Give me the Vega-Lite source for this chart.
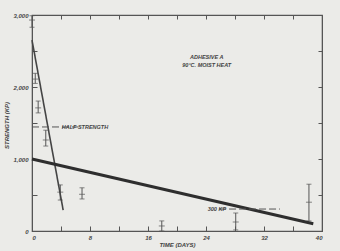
{
  "$schema": "https://vega.github.io/schema/vega-lite/v6.json",
  "width": 290,
  "height": 216,
  "autosize": "none",
  "padding": {"left": 32, "top": 15, "right": 18, "bottom": 20},
  "background": "#ebebe8",
  "config": {
    "view": {"stroke": "#555555", "strokeWidth": 1.2},
    "font": "Liberation Sans",
    "axis": {"labelFont": "Liberation Sans", "titleFont": "Liberation Sans", "labelFontStyle": "italic", "titleFontStyle": "italic", "labelFontWeight": "bold", "titleFontWeight": "bold", "labelColor": "#444", "titleColor": "#444", "domainColor": "#555", "tickColor": "#555", "grid": false, "labelFontSize": 6, "titleFontSize": 6}
  },
  "resolve": {"axis": {"x": "independent", "y": "independent"}},
  "datasets": {
    "pts": [
      {"day": 0, "s": 2930, "lo": 2830, "hi": 2990},
      {"day": 0.45, "s": 2110, "lo": 2050, "hi": 2190},
      {"day": 0.85, "s": 1710, "lo": 1640, "hi": 1805},
      {"day": 1.9, "s": 1264, "lo": 1180, "hi": 1400},
      {"day": 3.9, "s": 540, "lo": 430, "hi": 640},
      {"day": 6.9, "s": 510, "lo": 445, "hi": 600},
      {"day": 17.9, "s": 70, "lo": 0, "hi": 140},
      {"day": 28.1, "s": 125, "lo": 15, "hi": 250},
      {"day": 38.2, "s": 400, "lo": 140, "hi": 650}
    ],
    "steep": [{"day": 0, "s": 2650}, {"day": 4.3, "s": 290}],
    "shallow": [{"day": 0, "s": 1000}, {"day": 38.8, "s": 100}],
    "half": [{"day": 0, "s": 1445}, {"day": 6.4, "s": 1445}],
    "kp300": [{"day": 25.8, "s": 305}, {"day": 34.2, "s": 305}],
    "labels": [
      {"day": 7.3, "s": 1445, "t": "HALF STRENGTH", "a": "left"},
      {"day": 25.5, "s": 305, "t": "300 KP", "a": "right"},
      {"day": 24.1, "s": 2410, "t": "ADHESIVE  A", "a": "left"},
      {"day": 24.1, "s": 2300, "t": "90°C. MOIST HEAT", "a": "left"}
    ]
  },
  "layer": [
    {
      "data": {"name": "pts"},
      "mark": {"type": "rule", "color": "#555", "strokeWidth": 1},
      "encoding": {
        "x": {"field": "day", "type": "quantitative", "scale": {"domain": [0, 40], "nice": false},
          "axis": {"values": [0, 4, 8, 12, 16, 20, 24, 28, 32, 36, 40], "labelExpr": "datum.value % 8 == 0 ? datum.label : ''", "tickSize": -5, "labelPadding": 8, "title": "TIME  (DAYS)", "titlePadding": 1}},
        "y": {"field": "lo", "type": "quantitative", "scale": {"domain": [0, 3000], "nice": false},
          "axis": {"values": [0, 500, 1000, 1500, 2000, 2500, 3000], "labelExpr": "datum.value % 1000 == 0 ? format(datum.value, ',') : ''", "tickSize": -5, "labelPadding": 9, "title": "STRENGTH  (KP)", "titlePadding": 3, "titleY": 110}},
        "y2": {"field": "hi"}
      }
    },
    {
      "data": {"name": "pts"},
      "mark": {"type": "tick", "color": "#555", "thickness": 1, "size": 6, "orient": "horizontal"},
      "encoding": {
        "x": {"field": "day", "type": "quantitative", "axis": {"orient": "top", "values": [4, 8, 12, 16, 20, 24, 28, 32, 36], "labels": false, "tickSize": -4, "title": null}},
        "y": {"field": "s", "type": "quantitative", "axis": {"orient": "right", "values": [500, 1000, 1500, 2000, 2500], "labels": false, "tickSize": -4, "title": null}}
      }
    },
    {
      "data": {"name": "pts"},
      "mark": {"type": "tick", "color": "#555", "thickness": 1, "size": 5, "orient": "horizontal"},
      "encoding": {"x": {"field": "day", "type": "quantitative", "axis": null}, "y": {"field": "lo", "type": "quantitative", "axis": null}}
    },
    {
      "data": {"name": "pts"},
      "mark": {"type": "tick", "color": "#555", "thickness": 1, "size": 5, "orient": "horizontal"},
      "encoding": {"x": {"field": "day", "type": "quantitative", "axis": null}, "y": {"field": "hi", "type": "quantitative", "axis": null}}
    },
    {
      "data": {"name": "steep"},
      "mark": {"type": "line", "color": "#444", "strokeWidth": 1.6},
      "encoding": {"x": {"field": "day", "type": "quantitative", "axis": null}, "y": {"field": "s", "type": "quantitative", "axis": null}}
    },
    {
      "data": {"name": "shallow"},
      "mark": {"type": "line", "color": "#2e2e2e", "strokeWidth": 3},
      "encoding": {"x": {"field": "day", "type": "quantitative", "axis": null}, "y": {"field": "s", "type": "quantitative", "axis": null}}
    },
    {
      "data": {"name": "half"},
      "mark": {"type": "line", "color": "#555", "strokeWidth": 1, "strokeDash": [7, 3]},
      "encoding": {"x": {"field": "day", "type": "quantitative", "axis": null}, "y": {"field": "s", "type": "quantitative", "axis": null}}
    },
    {
      "data": {"name": "kp300"},
      "mark": {"type": "line", "color": "#555", "strokeWidth": 1, "strokeDash": [7, 3]},
      "encoding": {"x": {"field": "day", "type": "quantitative", "axis": null}, "y": {"field": "s", "type": "quantitative", "axis": null}}
    },
    {
      "data": {"name": "labels"},
      "mark": {"type": "text", "fontSize": 5.5, "fontStyle": "italic", "fontWeight": "bold", "color": "#444", "baseline": "middle"},
      "encoding": {"x": {"field": "day", "type": "quantitative", "axis": null}, "y": {"field": "s", "type": "quantitative", "axis": null}, "text": {"field": "t"}, "align": {"field": "a", "type": "nominal", "scale": null}}
    }
  ]
}
